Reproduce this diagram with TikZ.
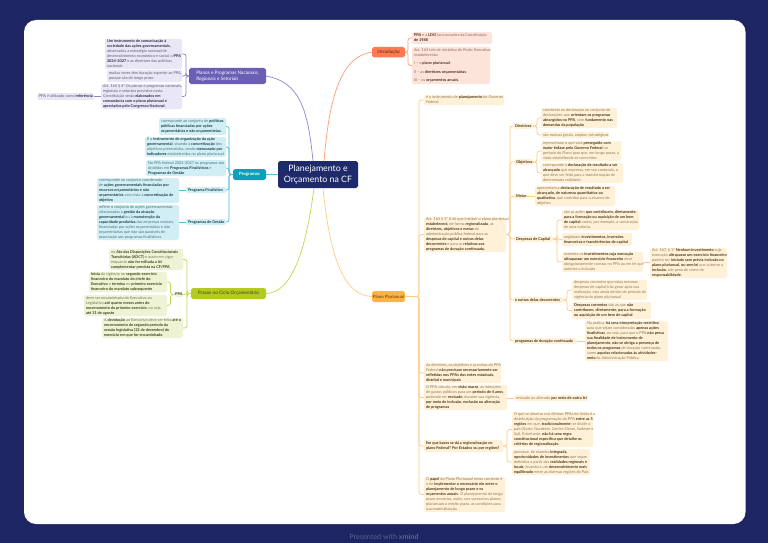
\documentclass[tikz,border=0pt]{standalone}
\usepackage{fontspec}
\setmainfont{Lato}
\definecolor{bg}{HTML}{1D2562}
\definecolor{ctr}{HTML}{1F2A6B}
\colorlet{boldink}{black}
\newcommand\bb[1]{\textbf{\textcolor{boldink}{#1}}}
\tikzset{
  nbox/.style={rounded corners=1.6,inner sep=0pt,outer sep=0pt,anchor=north west,font=\fontsize{3.85}{5}\selectfont},
  pnote/.style={nbox,fill=pfill,text=ptext,execute at begin node={\colorlet{boldink}{pbold}}},
  cnote/.style={nbox,fill=cfill,text=ctext,execute at begin node={\colorlet{boldink}{cbold}}},
  lnote/.style={nbox,fill=lfill,text=ltext,execute at begin node={\colorlet{boldink}{lbold}}},
  rnote/.style={nbox,fill=rfill,text=rtext,execute at begin node={\colorlet{boldink}{rbold}}},
  onote/.style={nbox,fill=ofill,text=otext,execute at begin node={\colorlet{boldink}{obold}}},
  mainbox/.style={rounded corners=1.8,inner sep=0pt,outer sep=0pt,anchor=north west,align=center,font=\fontsize{4.7}{6}\selectfont},
  pline/.style={draw=pln,line width=0.7pt,rounded corners=2.5},
  cline/.style={draw=cln,line width=0.7pt,rounded corners=2.5},
  lline/.style={draw=lln,line width=0.7pt,rounded corners=2.5},
  rline/.style={draw=rln,line width=0.7pt,rounded corners=2.5},
  oline/.style={draw=oln,line width=0.7pt,rounded corners=2.5},
}
\definecolor{pfill}{HTML}{E9E6F5}\definecolor{ptext}{HTML}{5F5A78}\definecolor{pbold}{HTML}{2E2A48}\definecolor{pln}{HTML}{8F85CC}
\definecolor{cfill}{HTML}{D2EEF5}\definecolor{ctext}{HTML}{47727D}\definecolor{cbold}{HTML}{17404B}\definecolor{cln}{HTML}{4FBDD6}
\definecolor{lfill}{HTML}{EEF3D6}\definecolor{ltext}{HTML}{6F7548}\definecolor{lbold}{HTML}{3D4218}\definecolor{lln}{HTML}{C4D64C}
\definecolor{rfill}{HTML}{FDE4DB}\definecolor{rtext}{HTML}{866A5E}\definecolor{rbold}{HTML}{4A2C20}\definecolor{rln}{HTML}{FF9C7A}
\definecolor{ofill}{HTML}{FFF0D8}\definecolor{otext}{HTML}{8E7852}\definecolor{obold}{HTML}{4A3818}\definecolor{oln}{HTML}{FFCB80}
\definecolor{introc}{HTML}{FF7A50}\definecolor{planoc}{HTML}{FFB347}\definecolor{purc}{HTML}{6B5FB5}\definecolor{cyanc}{HTML}{0F9FBC}\definecolor{limec}{HTML}{B3CB1E}
% style, name, x1, y1, x2, y2, lines
\newcommand\nt[7]{%
  \pgfmathsetmacro\nw{#5-#3}\pgfmathsetmacro\nh{#6-#4}%
  \node[#1,minimum width=\nw pt,minimum height=\nh pt] (#2) at (#3,#4)
    {\makebox[\dimexpr\nw pt-4pt\relax][l]{\begin{tabular}{@{}l@{}}#7\end{tabular}}};%
}
% line style, from, to, offset
\newcommand\tol[4]{\draw[#1] (#2.west) -- ++(-#4,0) |- (#3.east);}
\newcommand\tor[4]{\draw[#1] (#2.east) -- ++(#4,0) |- (#3.west);}
\begin{document}
\begin{tikzpicture}[x=1pt,y=-1pt]
\useasboundingbox (0,0) rectangle (768,543);
\fill[bg] (0,0) rectangle (768,543);
\fill[white,rounded corners=12] (24,20) rectangle (745.5,524);
\node[font=\fontsize{7.2}{8}\selectfont,text=bg!72!white] (foot) at (384,537) {Presented with \textbf{xmind}};

% central and main topics
\node[mainbox,fill=ctr,text=white,minimum width=80pt,minimum height=27pt,font=\fontsize{8.8}{10.6}\selectfont] (center) at (278,161) {Planejamento e\\Orçamento na CF};
\node[mainbox,fill=introc,text=rbold,minimum width=33pt,minimum height=10.5pt] (intro) at (372,47) {Introdução};
\node[mainbox,fill=planoc,text=obold,minimum width=33pt,minimum height=11pt,font=\fontsize{4.4}{6}\selectfont] (plano) at (372,291) {Plano Plurianual};
\node[mainbox,fill=purc,text=white,minimum width=77pt,minimum height=16pt,align=left] (planos) at (189,68) {Planos e Programas Nacionais,\\Regionais e Setoriais};
\node[mainbox,fill=cyanc,text=white,minimum width=33pt,minimum height=11pt,font=\fontsize{4.4}{6}\bfseries\selectfont] (progs) at (233,169) {Programas};
\node[mainbox,fill=limec,text=lbold,minimum width=75pt,minimum height=11pt] (prazos) at (191,288) {Prazos no Ciclo Orçamentário};

% central connectors
\coordinate (c1) at (313,161);
\coordinate (c2) at (324,161);
\coordinate (c3) at (314,188);
\coordinate (c4) at (323,188);
\draw[pline] (c1) .. controls (308,110) and (300,82) .. (planos.east);
\draw[rline] (c2) .. controls (329,100) and (340,56) .. (intro.west);
\draw[lline] (c3) .. controls (306,250) and (292,293) .. (prazos.east);
\draw[oline] (c4) .. controls (330,260) and (345,296) .. (plano.west);
\draw[cline] (center.west |- progs.east) -- (progs.east);

% Planos (purple)
\nt{pnote}{pa}{105}{39}{182}{69}{\bb{Um instrumento de comunicação à}\\\bb{sociedade das ações governamentais,}\\observados a estratégia nacional de\\desenvolvimento econômico e social, o \bb{PPA}\\\bb{2024-2027} e as diretrizes das políticas\\nacionais}
\nt{pnote}{pb}{107}{70}{182}{82}{muitas vezes têm duração superior ao PPA,\\porque são de longo prazo}
\nt{pnote}{pc}{101}{84}{182}{109}{Art. 165 § 4º Os planos e programas nacionais,\\regionais e setoriais previstos nesta\\Constituição serão \bb{elaborados em}\\\bb{consonância com o plano plurianual e}\\\bb{apreciados pelo Congresso Nacional.}}
\nt{pnote}{pd}{37}{93}{94}{100}{PPA é utilizado como \bb{referência}}
\tol{pline}{planos}{pa}{3}
\tol{pline}{planos}{pb}{3}
\tol{pline}{planos}{pc}{3}
\draw[pline] (pc.west |- pd.east) -- (pd.east);

% Programas (cyan)
\nt{cnote}{ca}{159}{118}{226}{135}{corresponde ao conjunto de \bb{políticas}\\\bb{públicas financiadas por ações}\\\bb{orçamentárias e não orçamentárias.}}
\nt{cnote}{cb}{145}{137}{226}{157}{É o \bb{instrumento de organização da ação}\\\bb{governamental}, visando à \bb{concretização} dos\\objetivos pretendidos, sendo \bb{mensurado por}\\\bb{indicadores} estabelecidos no plano plurianual.}
\nt{cnote}{cc}{146}{160}{226}{176}{No PPA federal 2024-2027 os programas são\\divididos em \bb{Programas Finalísticos} e\\\bb{Programas de Gestão}}
\nt{cnote}{cd}{186}{187}{226}{193}{\bb{Programa Finalístico}}
\nt{cnote}{ce}{97}{178}{179}{203}{corresponde ao conjunto coordenado\\de \bb{ações governamentais financiadas por}\\\bb{recursos orçamentários e não}\\\bb{orçamentários} com vista à \bb{concretização de}\\\bb{objetivo}}
\nt{cnote}{cf}{186}{219}{226}{225}{\bb{Programas de Gestão}}
\nt{cnote}{cg}{97}{205}{179}{239}{reflete o conjunto de ações governamentais\\relacionadas à \bb{gestão da atuação}\\\bb{governamental} ou à \bb{manutenção da}\\\bb{capacidade produtiva} das empresas estatais,\\financiadas por ações orçamentárias e não\\orçamentárias que não são passíveis de\\associação aos programas finalísticos}
\tol{cline}{progs}{ca}{4}
\tol{cline}{progs}{cb}{4}
\tol{cline}{progs}{cc}{4}
\tol{cline}{progs}{cd}{4}
\tol{cline}{progs}{cf}{4}
\draw[cline] (cd.west) -- (ce.east |- cd.west);
\draw[cline] (cf.west) -- (cg.east |- cf.west);

% Prazos (lime)
\nt{lnote}{la}{109}{249}{183}{270}{no \bb{Ato das Disposições Constitucionais}\\\bb{Transitórias (ADCT)} e assim em vigor\\enquanto \bb{não for editada a lei}\\\bb{complementar prevista na CF/PPA}}
\nt{lnote}{lp}{174}{292}{183}{297}{\hspace{-0.8pt}\bb{PPA}}
\nt{lnote}{lb}{89}{272}{167}{292}{\bb{Inicia} da vigência no \bb{segundo exercício}\\\bb{financeiro do mandato do chefe do}\\\bb{Executivo} e \bb{termina} no \bb{primeiro exercício}\\\bb{financeiro do mandato subsequente}}
\nt{lnote}{lc}{84}{295}{167}{316}{deve ser encaminhado do Executivo ao\\Legislativo \bb{até quatro meses antes do}\\\bb{encerramento do primeiro exercício}, ou seja,\\\bb{até 31 de agosto}}
\nt{lnote}{ld}{102}{318}{183}{338}{A \bb{devolução} ao Executivo deve ser feita \bb{até o}\\\bb{encerramento do segundo período da}\\\bb{sessão legislativa (22 de dezembro) do}\\\bb{exercício em que for encaminhado}}
\tol{lline}{prazos}{la}{4}
\tol{lline}{prazos}{lp}{4}
\tol{lline}{prazos}{ld}{4}
\tol{lline}{lp}{lb}{3.5}
\tol{lline}{lp}{lc}{3.5}

% Introdução (red-orange)
\nt{rnote}{ra}{412}{32}{492}{44}{\bb{PPA} e a \bb{LDO} (as inovações da Constituição\\\bb{de 1988}}
\nt{rnote}{rb}{412}{47}{490}{84}{Art. 165 Leis de iniciativa do Poder Executivo\\estabelecerão:\\[3.6pt]I -- o \bb{plano plurianual};\\[3.6pt]II -- as \bb{diretrizes orçamentárias};\\[3.6pt]III -- os \bb{orçamentos anuais}.}
\tor{rline}{intro}{ra}{3}
\tor{rline}{intro}{rb}{3}

% Plano Plurianual (orange)
\nt{onote}{oa}{424}{95}{504}{105}{é o instrumento de \bb{planejamento} do Governo\\Federal.}
\nt{onote}{ob}{424}{217}{506}{251}{Art. 165 § 1º A lei que instituir o plano plurianual\\\bb{estabelecerá}, de forma \bb{regionalizada}, as\\\bb{diretrizes, objetivos e metas} da\\administração pública federal para as\\\bb{despesas de capital e outras delas}\\\bb{decorrentes} e para as \bb{relativas aos}\\\bb{programas de duração continuada.}}
\nt{onote}{oc}{424}{363}{501}{382}{As diretrizes, os objetivos e as metas do PPA\\Federal \bb{não precisam necessariamente ser}\\\bb{refletidas nos PPAs dos entes estaduais,}\\\bb{distrital e municipais}}
\nt{onote}{od}{424}{385}{507}{410}{O PPA vincula, em \bb{visão macro}, as intenções\\de gastos públicos para um \bb{período de 4 anos},\\podendo ser \bb{revisado}, durante sua vigência,\\\bb{por meio de inclusão, exclusão ou alteração}\\\bb{de programas}}
\nt{onote}{oe}{424}{440}{503}{452}{\bb{Em que bases se dá a regionalização no}\\\bb{plano Federal? Por Estados ou por regiões?}}
\nt{onote}{of}{424}{477}{505}{511}{O \bb{papel} do Plano Plurianual nesse contexto é\\o de \bb{implementar o necessário elo entre o}\\\bb{planejamento de longo prazo e os}\\\bb{orçamentos anuais}. O planejamento de longo\\prazo encontra, assim, nos sucessivos planos\\plurianuais o médio prazo, as condições para\\sua materialização.}
\tor{oline}{plano}{oa}{14}
\tor{oline}{plano}{ob}{14}
\tor{oline}{plano}{oc}{14}
\tor{oline}{plano}{od}{14}
\tor{oline}{plano}{oe}{14}
\tor{oline}{plano}{of}{14}

\nt{onote}{o1}{513}{123}{533}{129}{\bb{Diretrizes}}
\nt{onote}{o2}{514}{159}{533}{165}{\bb{Objetivos}}
\nt{onote}{o3}{514}{194}{526}{199}{\bb{Metas}}
\nt{onote}{o4}{514}{236}{553}{242}{\bb{Despesas de Capital}}
\nt{onote}{o5}{513}{297}{563}{303}{\bb{e outras delas decorrentes}}
\nt{onote}{o6}{513}{338}{577}{344}{\bb{programas de duração continuada}}
\tor{oline}{ob}{o1}{4}
\tor{oline}{ob}{o2}{4}
\tor{oline}{ob}{o3}{4}
\tor{oline}{ob}{o4}{4}
\tor{oline}{ob}{o5}{4}
\tor{oline}{ob}{o6}{4}

\nt{onote}{d1}{541}{108}{617}{128}{consistem na declaração ou conjunto de\\declarações que \bb{orientam os programas}\\\bb{abrangidos no PPA}, com \bb{fundamento nas}\\\bb{demandas da população}}
\nt{onote}{d2}{541}{132}{609}{138}{são normas gerais, amplas, estratégicas}
\tor{oline}{o1}{d1}{4}
\tor{oline}{o1}{d2}{4}
\nt{onote}{j1}{541}{141}{621}{161}{representam o que será \bb{perseguido com}\\\bb{maior ênfase pelo Governo Federal} no\\período do Plano para que, em longo prazo, a\\visão estabelecida se concretize.}
\nt{onote}{j2}{541}{163}{623}{183}{corresponde à \bb{declaração de resultado a ser}\\\bb{alcançado} que expressa, em seu conteúdo, o\\que deve ser feito para a transformação de\\determinada realidade.}
\tor{oline}{o2}{j1}{4}
\tor{oline}{o2}{j2}{4}
\nt{onote}{m1}{535}{186}{615}{206}{apresentam a \bb{declaração de resultado a ser}\\\bb{alcançado, de natureza quantitativa ou}\\\bb{qualitativa}, que contribui para o alcance do\\objetivo}
\draw[oline] (o3.east) -- (m1.west |- o3.east);
\nt{onote}{k1}{562}{210}{639}{230}{são as ações \bb{que contribuem, diretamente,}\\\bb{para a formação ou aquisição de um bem}\\\bb{de capital}, como, por exemplo, a construção\\de uma rodovia.}
\nt{onote}{k2}{562}{233}{632}{246}{englobam \bb{investimentos, inversões}\\\bb{financeiras e transferências de capital}}
\nt{onote}{k3}{562}{252}{643}{272}{somente os \bb{investimentos cuja execução}\\\bb{ultrapassar um exercício financeiro} deve\\obrigatoriamente constar no PPA ou em lei que\\autorize a inclusão}
\tor{oline}{o4}{k1}{4}
\tor{oline}{o4}{k2}{4}
\tor{oline}{o4}{k3}{4}
\nt{onote}{k4}{650}{248}{727}{277}{Art. 167, § 1º \bb{Nenhum investimento} cuja\\execução \bb{ultrapasse um exercício financeiro}\\poderá ser \bb{iniciado sem prévia inclusão no}\\\bb{plano plurianual, ou sem lei} que autorize a\\\bb{inclusão}, sob pena de crime de\\\bb{responsabilidade}.}
\draw[oline] (k3.east) -- (k4.west |- k3.east);
\nt{onote}{n1}{572}{280}{647}{300}{despesas correntes que estas mesmas\\despesas de capital irão gerar após sua\\realização, mas ainda dentro do período de\\vigência do plano plurianual}
\nt{onote}{n2}{572}{302}{651}{319}{\bb{Despesas correntes} são as que \bb{não}\\\bb{contribuem, diretamente, para a formação}\\\bb{ou aquisição de um bem de capital}}
\tor{oline}{o5}{n1}{4}
\tor{oline}{o5}{n2}{4}
\nt{onote}{q1}{585}{321}{668}{361}{Na prática, \bb{há uma interpretação restritiva}\\para que sejam consideradas \bb{apenas ações}\\\bb{finalísticas}, ou seja, para que o PPA \bb{não perca}\\\bb{sua finalidade de instrumento de}\\\bb{planejamento, não se obriga a presença de}\\\bb{todos os programas} de duração continuada,\\como \bb{aquelas relacionadas às atividades-}\\\bb{meio} da Administração Pública}
\draw[oline] (o6.east) -- (q1.west |- o6.east);
\nt{onote}{r1}{514}{395}{588}{401}{revisado ou alterado \bb{por meio de outra lei}}
\draw[oline] (od.east |- r1.west) -- (r1.west);
\nt{onote}{s1}{512}{412}{593}{447}{O que se observa nos últimos PPAs da União é a\\distribuição da programação do PPA \bb{entre as 5}\\\bb{regiões} em que, \bb{tradicionalmente}, se divide o\\país (Norte, Nordeste, Centro-Oeste, Sudeste e\\Sul). Entretanto, \bb{não há uma regra}\\\bb{constitucional específica que detalhe os}\\\bb{critérios de regionalização}}
\nt{onote}{s2}{512}{449}{590}{475}{promove, de maneira \bb{integrada,}\\\bb{oportunidades de investimentos} que sejam\\definidos a partir das \bb{realidades regionais e}\\\bb{locais}, levando a um \bb{desenvolvimento mais}\\\bb{equilibrado} entre as diversas regiões do País}
\tor{oline}{oe}{s1}{4}
\tor{oline}{oe}{s2}{4}
\end{tikzpicture}
\end{document}
